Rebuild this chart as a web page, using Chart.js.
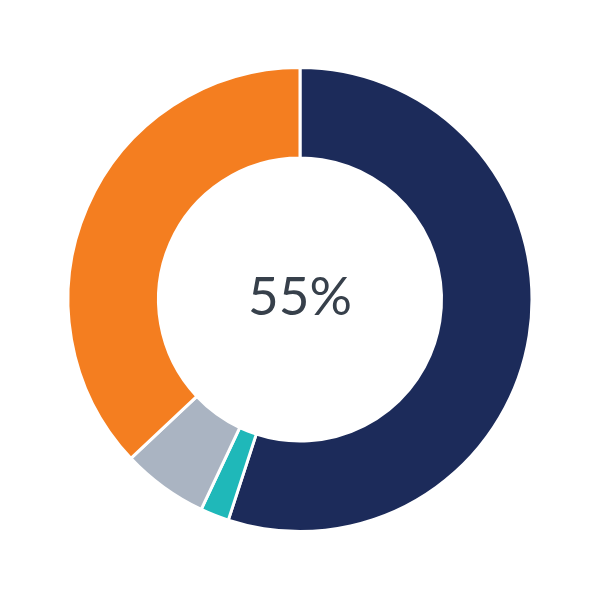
<!DOCTYPE html>
<html>
<head>
<meta charset="utf-8">
<script src="https://cdn.jsdelivr.net/npm/chart.js@4"></script>
<style>
  html, body { margin: 0; padding: 0; background: #fff; }
  #wrap { width: 600px; height: 599px; position: relative; }
</style>
</head>
<body>
<div id="wrap"><canvas id="chart"></canvas></div>
<script>
// Segment data, clockwise from 12 o'clock
const labels = ['A', 'B', 'C', 'D'];
const values = [55, 2, 6, 37];
const colors = ['#1c2b5a', '#1fb8b9', '#aab4c2', '#f47e20'];
const centerLabel = '55%';

// Draw the big number in the hole
const centerText = {
  id: 'centerText',
  afterDraw(chart) {
    const { ctx, chartArea } = chart;
    const cx = (chartArea.left + chartArea.right) / 2;
    const cy = (chartArea.top + chartArea.bottom) / 2;
    ctx.save();
    ctx.font = '53px Lato, "Open Sans", sans-serif';
    ctx.fillStyle = '#37404b';
    ctx.textAlign = 'center';
    ctx.textBaseline = 'middle';
    ctx.fillText(centerLabel, cx, cy - 2);
    ctx.restore();
  }
};

new Chart(document.getElementById('chart'), {
  type: 'doughnut',
  data: {
    labels: labels,
    datasets: [{
      data: values,
      backgroundColor: colors,
      borderColor: '#ffffff',
      borderWidth: 3
    }]
  },
  options: {
    responsive: true,
    maintainAspectRatio: false,
    animation: false,
    cutout: '61%',
    layout: { padding: 66 },
    plugins: {
      legend: { display: false },
      tooltip: { enabled: false }
    }
  },
  plugins: [centerText]
});
</script>
</body>
</html>
